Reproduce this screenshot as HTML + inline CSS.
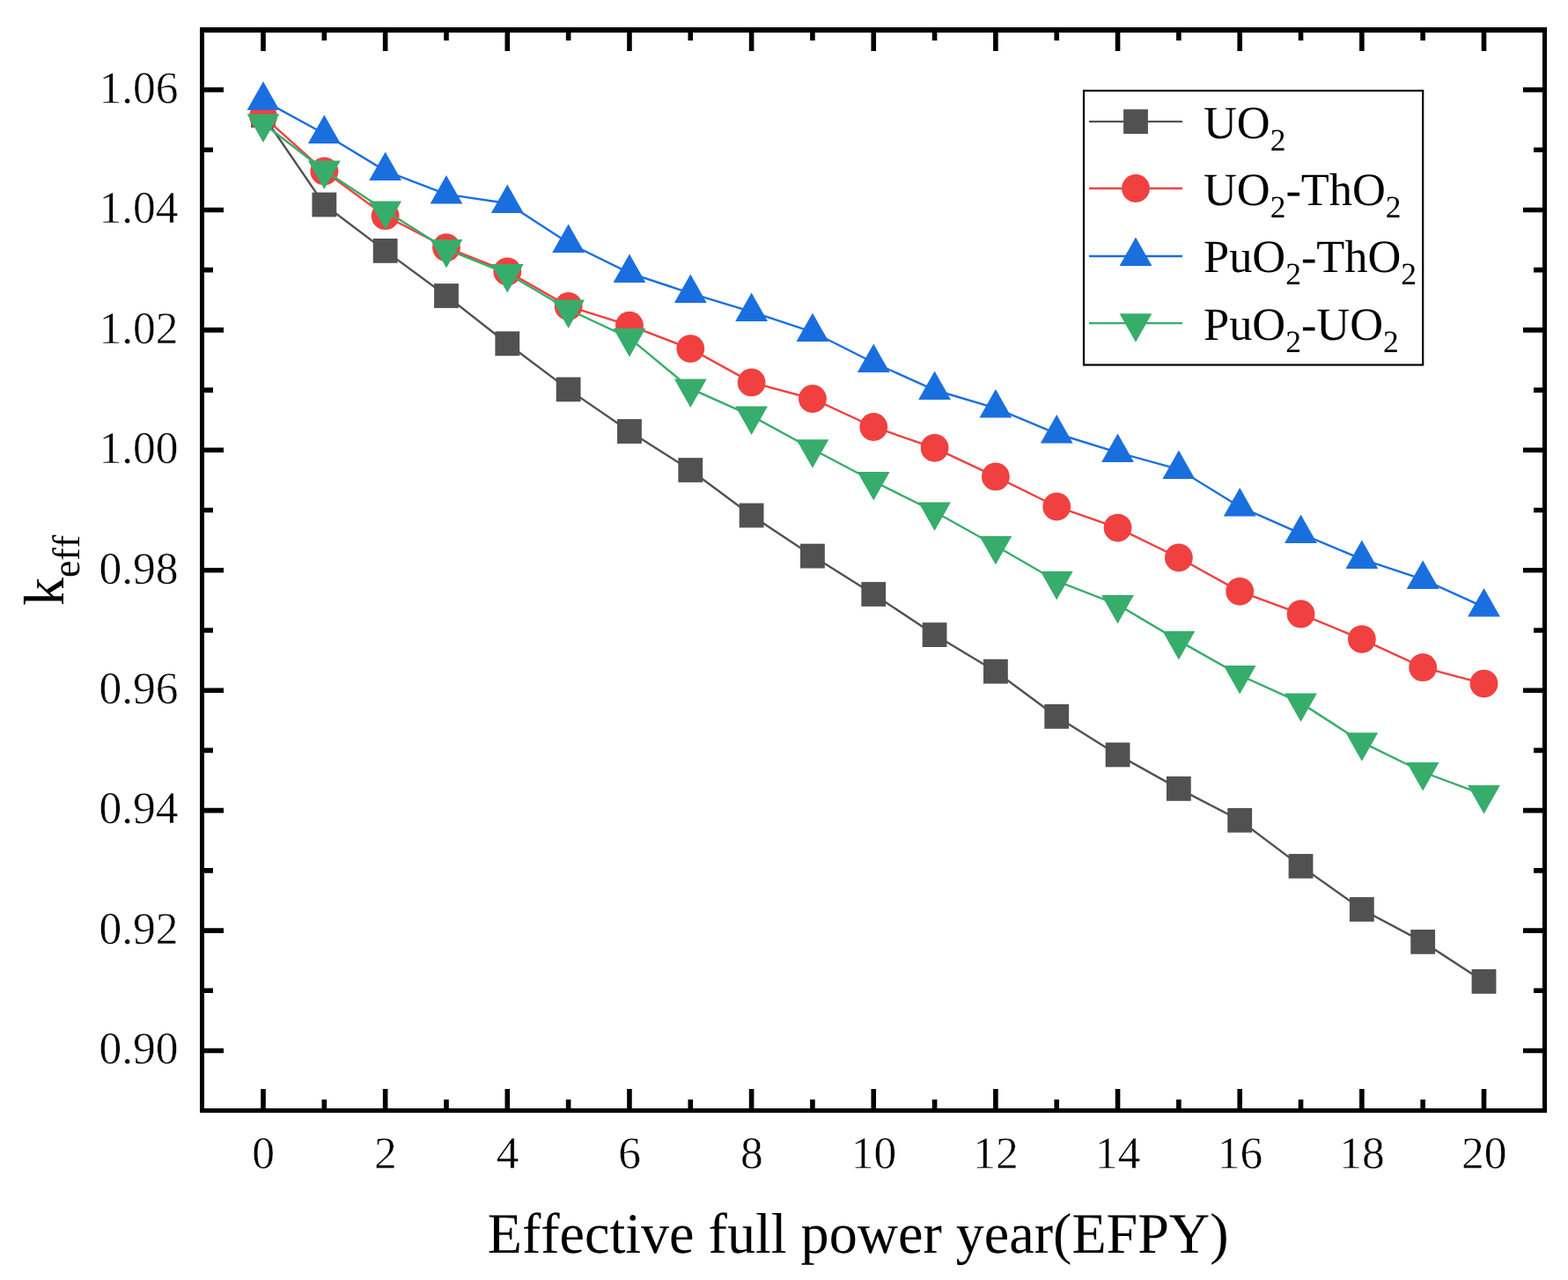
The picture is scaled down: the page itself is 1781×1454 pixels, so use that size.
<!DOCTYPE html>
<html lang="en">
<head>
<meta charset="utf-8">
<title>k_eff versus effective full power year</title>
<style>
html,body{margin:0;padding:0;background:#fff;}
body{width:1781px;height:1454px;overflow:hidden;}
svg{display:block;}
text{font-family:"Liberation Serif",serif;fill:#000;font-variant-ligatures:none;font-kerning:none;text-rendering:geometricPrecision;}
.tick{font-size:51.5px;stroke:#fff;stroke-width:0.5px;paint-order:fill stroke;}
.leg{font-size:52.4px;}
.ttl{font-size:65px;}
</style>
</head>
<body>
<svg width="1781" height="1454" viewBox="0 0 1781 1454">
<rect x="0" y="0" width="1781" height="1454" fill="#fff"/>
<path d="M227 31.1H1757V1264H227Z M232 36.9V1259H1752V36.9Z" fill="#000" fill-rule="evenodd"/>
<path d="M299 1261.5v-24.5M299 34.0v23.9M368.32 1261.5v-12.5M368.32 34.0v11.9M437.65 1261.5v-24.5M437.65 34.0v23.9M506.98 1261.5v-12.5M506.98 34.0v11.9M576.3 1261.5v-24.5M576.3 34.0v23.9M645.62 1261.5v-12.5M645.62 34.0v11.9M714.95 1261.5v-24.5M714.95 34.0v23.9M784.28 1261.5v-12.5M784.28 34.0v11.9M853.6 1261.5v-24.5M853.6 34.0v23.9M922.93 1261.5v-12.5M922.93 34.0v11.9M992.25 1261.5v-24.5M992.25 34.0v23.9M1061.58 1261.5v-12.5M1061.58 34.0v11.9M1130.9 1261.5v-24.5M1130.9 34.0v23.9M1200.22 1261.5v-12.5M1200.22 34.0v11.9M1269.55 1261.5v-24.5M1269.55 34.0v23.9M1338.88 1261.5v-12.5M1338.88 34.0v11.9M1408.2 1261.5v-24.5M1408.2 34.0v23.9M1477.53 1261.5v-12.5M1477.53 34.0v11.9M1546.85 1261.5v-24.5M1546.85 34.0v23.9M1616.17 1261.5v-12.5M1616.17 34.0v11.9M1685.5 1261.5v-24.5M1685.5 34.0v23.9M229.5 102h24.5M1754.5 102h-24.5M229.5 170.22h12.5M1754.5 170.22h-12.5M229.5 238.44h24.5M1754.5 238.44h-24.5M229.5 306.66h12.5M1754.5 306.66h-12.5M229.5 374.88h24.5M1754.5 374.88h-24.5M229.5 443.1h12.5M1754.5 443.1h-12.5M229.5 511.32h24.5M1754.5 511.32h-24.5M229.5 579.54h12.5M1754.5 579.54h-12.5M229.5 647.76h24.5M1754.5 647.76h-24.5M229.5 715.98h12.5M1754.5 715.98h-12.5M229.5 784.2h24.5M1754.5 784.2h-24.5M229.5 852.42h12.5M1754.5 852.42h-12.5M229.5 920.64h24.5M1754.5 920.64h-24.5M229.5 988.86h12.5M1754.5 988.86h-12.5M229.5 1057.08h24.5M1754.5 1057.08h-24.5M229.5 1125.3h12.5M1754.5 1125.3h-12.5M229.5 1193.52h24.5M1754.5 1193.52h-24.5" fill="none" stroke="#000" stroke-width="5.6"/>
<text class="tick" transform="translate(202.6 116.8)" text-anchor="end">1.06</text>
<text class="tick" transform="translate(202.6 253.24)" text-anchor="end">1.04</text>
<text class="tick" transform="translate(202.6 389.68)" text-anchor="end">1.02</text>
<text class="tick" transform="translate(202.6 526.12)" text-anchor="end">1.00</text>
<text class="tick" transform="translate(202.6 662.56)" text-anchor="end">0.98</text>
<text class="tick" transform="translate(202.6 799)" text-anchor="end">0.96</text>
<text class="tick" transform="translate(202.6 935.44)" text-anchor="end">0.94</text>
<text class="tick" transform="translate(202.6 1071.88)" text-anchor="end">0.92</text>
<text class="tick" transform="translate(202.6 1208.32)" text-anchor="end">0.90</text>
<text class="tick" transform="translate(299.2 1327)" text-anchor="middle">0</text>
<text class="tick" transform="translate(437.85 1327)" text-anchor="middle">2</text>
<text class="tick" transform="translate(576.5 1327)" text-anchor="middle">4</text>
<text class="tick" transform="translate(715.15 1327)" text-anchor="middle">6</text>
<text class="tick" transform="translate(853.8 1327)" text-anchor="middle">8</text>
<text class="tick" transform="translate(992.45 1327)" text-anchor="middle">10</text>
<text class="tick" transform="translate(1131.1 1327)" text-anchor="middle">12</text>
<text class="tick" transform="translate(1269.75 1327)" text-anchor="middle">14</text>
<text class="tick" transform="translate(1408.4 1327)" text-anchor="middle">16</text>
<text class="tick" transform="translate(1547.05 1327)" text-anchor="middle">18</text>
<text class="tick" transform="translate(1685.7 1327)" text-anchor="middle">20</text>
<text class="ttl" transform="translate(974.6 1423.3) scale(0.986 1)" text-anchor="middle">Effective full power year(EFPY)</text>
<text class="ttl" transform="translate(71.8 688) rotate(-90) scale(0.988 1)" x="0" y="0">k<tspan dy="18.6" font-size="43.8px">eff</tspan></text>
<polyline points="299,131 368.32,232.5 437.65,284.9 506.98,336 576.3,390.3 645.62,442.4 714.95,490 784.28,534 853.6,585.5 922.93,631.6 992.25,675 1061.58,721.1 1130.9,762.7 1200.22,813.9 1269.55,857.4 1338.88,895.9 1408.2,931.8 1477.53,983.9 1546.85,1033 1616.17,1069.9 1685.5,1114.9" fill="none" stroke="#515151" stroke-width="2.4"/>
<rect x="285.1" y="117.1" width="27.8" height="27.8" fill="#515151"/><rect x="354.43" y="218.6" width="27.8" height="27.8" fill="#515151"/><rect x="423.75" y="271" width="27.8" height="27.8" fill="#515151"/><rect x="493.08" y="322.1" width="27.8" height="27.8" fill="#515151"/><rect x="562.4" y="376.4" width="27.8" height="27.8" fill="#515151"/><rect x="631.73" y="428.5" width="27.8" height="27.8" fill="#515151"/><rect x="701.05" y="476.1" width="27.8" height="27.8" fill="#515151"/><rect x="770.38" y="520.1" width="27.8" height="27.8" fill="#515151"/><rect x="839.7" y="571.6" width="27.8" height="27.8" fill="#515151"/><rect x="909.03" y="617.7" width="27.8" height="27.8" fill="#515151"/><rect x="978.35" y="661.1" width="27.8" height="27.8" fill="#515151"/><rect x="1047.67" y="707.2" width="27.8" height="27.8" fill="#515151"/><rect x="1117" y="748.8" width="27.8" height="27.8" fill="#515151"/><rect x="1186.32" y="800" width="27.8" height="27.8" fill="#515151"/><rect x="1255.65" y="843.5" width="27.8" height="27.8" fill="#515151"/><rect x="1324.97" y="882" width="27.8" height="27.8" fill="#515151"/><rect x="1394.3" y="917.9" width="27.8" height="27.8" fill="#515151"/><rect x="1463.62" y="970" width="27.8" height="27.8" fill="#515151"/><rect x="1532.95" y="1019.1" width="27.8" height="27.8" fill="#515151"/><rect x="1602.27" y="1056" width="27.8" height="27.8" fill="#515151"/><rect x="1671.6" y="1101" width="27.8" height="27.8" fill="#515151"/>
<polyline points="299,132.2 368.32,194.4 437.65,245.2 506.98,281.2 576.3,308.4 645.62,347.9 714.95,369.7 784.28,396.1 853.6,434.4 922.93,453 992.25,485 1061.58,508.8 1130.9,541.4 1200.22,575.5 1269.55,599.6 1338.88,633.5 1408.2,671.8 1477.53,697.4 1546.85,726.1 1616.17,758.2 1685.5,776.6" fill="none" stroke="#f14040" stroke-width="2.4"/>
<circle cx="299" cy="132.2" r="15.9" fill="#f14040"/><circle cx="368.32" cy="194.4" r="15.9" fill="#f14040"/><circle cx="437.65" cy="245.2" r="15.9" fill="#f14040"/><circle cx="506.98" cy="281.2" r="15.9" fill="#f14040"/><circle cx="576.3" cy="308.4" r="15.9" fill="#f14040"/><circle cx="645.62" cy="347.9" r="15.9" fill="#f14040"/><circle cx="714.95" cy="369.7" r="15.9" fill="#f14040"/><circle cx="784.28" cy="396.1" r="15.9" fill="#f14040"/><circle cx="853.6" cy="434.4" r="15.9" fill="#f14040"/><circle cx="922.93" cy="453" r="15.9" fill="#f14040"/><circle cx="992.25" cy="485" r="15.9" fill="#f14040"/><circle cx="1061.58" cy="508.8" r="15.9" fill="#f14040"/><circle cx="1130.9" cy="541.4" r="15.9" fill="#f14040"/><circle cx="1200.22" cy="575.5" r="15.9" fill="#f14040"/><circle cx="1269.55" cy="599.6" r="15.9" fill="#f14040"/><circle cx="1338.88" cy="633.5" r="15.9" fill="#f14040"/><circle cx="1408.2" cy="671.8" r="15.9" fill="#f14040"/><circle cx="1477.53" cy="697.4" r="15.9" fill="#f14040"/><circle cx="1546.85" cy="726.1" r="15.9" fill="#f14040"/><circle cx="1616.17" cy="758.2" r="15.9" fill="#f14040"/><circle cx="1685.5" cy="776.6" r="15.9" fill="#f14040"/>
<polyline points="299,114.1 368.32,152 437.65,194.1 506.98,220.7 576.3,231 645.62,276 714.95,310.1 784.28,333.1 853.6,354.1 922.93,377 992.25,412 1061.58,443 1130.9,463.6 1200.22,492.5 1269.55,514 1338.88,533.1 1408.2,575.7 1477.53,606.2 1546.85,635.2 1616.17,658.1 1685.5,689.6" fill="none" stroke="#1a6fdf" stroke-width="2.4"/>
<polygon points="299,92.5 317.4,125 280.6,125" fill="#1a6fdf"/><polygon points="368.32,130.4 386.72,162.9 349.93,162.9" fill="#1a6fdf"/><polygon points="437.65,172.5 456.05,205 419.25,205" fill="#1a6fdf"/><polygon points="506.98,199.1 525.38,231.6 488.58,231.6" fill="#1a6fdf"/><polygon points="576.3,209.4 594.7,241.9 557.9,241.9" fill="#1a6fdf"/><polygon points="645.62,254.4 664.02,286.9 627.23,286.9" fill="#1a6fdf"/><polygon points="714.95,288.5 733.35,321 696.55,321" fill="#1a6fdf"/><polygon points="784.28,311.5 802.68,344 765.88,344" fill="#1a6fdf"/><polygon points="853.6,332.5 872,365 835.2,365" fill="#1a6fdf"/><polygon points="922.93,355.4 941.33,387.9 904.53,387.9" fill="#1a6fdf"/><polygon points="992.25,390.4 1010.65,422.9 973.85,422.9" fill="#1a6fdf"/><polygon points="1061.58,421.4 1079.98,453.9 1043.17,453.9" fill="#1a6fdf"/><polygon points="1130.9,442 1149.3,474.5 1112.5,474.5" fill="#1a6fdf"/><polygon points="1200.22,470.9 1218.62,503.4 1181.82,503.4" fill="#1a6fdf"/><polygon points="1269.55,492.4 1287.95,524.9 1251.15,524.9" fill="#1a6fdf"/><polygon points="1338.88,511.5 1357.28,544 1320.47,544" fill="#1a6fdf"/><polygon points="1408.2,554.1 1426.6,586.6 1389.8,586.6" fill="#1a6fdf"/><polygon points="1477.53,584.6 1495.93,617.1 1459.12,617.1" fill="#1a6fdf"/><polygon points="1546.85,613.6 1565.25,646.1 1528.45,646.1" fill="#1a6fdf"/><polygon points="1616.17,636.5 1634.58,669 1597.77,669" fill="#1a6fdf"/><polygon points="1685.5,668 1703.9,700.5 1667.1,700.5" fill="#1a6fdf"/>
<polyline points="299,140.3 368.32,193.4 437.65,239.3 506.98,283 576.3,310.8 645.62,351.5 714.95,383.9 784.28,441.4 853.6,472.4 922.93,510.2 992.25,546.8 1061.58,581.3 1130.9,620 1200.22,660 1269.55,686.8 1338.88,727.9 1408.2,767 1477.53,798.4 1546.85,843.2 1616.17,877 1685.5,902.8" fill="none" stroke="#37ad6b" stroke-width="2.4"/>
<polygon points="299,161.9 317.4,129.4 280.6,129.4" fill="#37ad6b"/><polygon points="368.32,215 386.72,182.5 349.93,182.5" fill="#37ad6b"/><polygon points="437.65,260.9 456.05,228.4 419.25,228.4" fill="#37ad6b"/><polygon points="506.98,304.6 525.38,272.1 488.58,272.1" fill="#37ad6b"/><polygon points="576.3,332.4 594.7,299.9 557.9,299.9" fill="#37ad6b"/><polygon points="645.62,373.1 664.02,340.6 627.23,340.6" fill="#37ad6b"/><polygon points="714.95,405.5 733.35,373 696.55,373" fill="#37ad6b"/><polygon points="784.28,463 802.68,430.5 765.88,430.5" fill="#37ad6b"/><polygon points="853.6,494 872,461.5 835.2,461.5" fill="#37ad6b"/><polygon points="922.93,531.8 941.33,499.3 904.53,499.3" fill="#37ad6b"/><polygon points="992.25,568.4 1010.65,535.9 973.85,535.9" fill="#37ad6b"/><polygon points="1061.58,602.9 1079.98,570.4 1043.17,570.4" fill="#37ad6b"/><polygon points="1130.9,641.6 1149.3,609.1 1112.5,609.1" fill="#37ad6b"/><polygon points="1200.22,681.6 1218.62,649.1 1181.82,649.1" fill="#37ad6b"/><polygon points="1269.55,708.4 1287.95,675.9 1251.15,675.9" fill="#37ad6b"/><polygon points="1338.88,749.5 1357.28,717 1320.47,717" fill="#37ad6b"/><polygon points="1408.2,788.6 1426.6,756.1 1389.8,756.1" fill="#37ad6b"/><polygon points="1477.53,820 1495.93,787.5 1459.12,787.5" fill="#37ad6b"/><polygon points="1546.85,864.8 1565.25,832.3 1528.45,832.3" fill="#37ad6b"/><polygon points="1616.17,898.6 1634.58,866.1 1597.77,866.1" fill="#37ad6b"/><polygon points="1685.5,924.4 1703.9,891.9 1667.1,891.9" fill="#37ad6b"/>
<rect x="1231" y="103" width="385.2" height="311.5" fill="#fff" stroke="#000" stroke-width="2.2"/>
<line x1="1237" y1="138.1" x2="1343" y2="138.1" stroke="#515151" stroke-width="2.4"/><rect x="1276.1" y="124.2" width="27.8" height="27.8" fill="#515151"/><text class="leg" transform="translate(1367 157.4)">UO<tspan dy="13.7" font-size="35.4px">2</tspan></text>
<line x1="1237" y1="214.0" x2="1343" y2="214.0" stroke="#f14040" stroke-width="2.4"/><circle cx="1290" cy="214" r="15.9" fill="#f14040"/><text class="leg" transform="translate(1367 233.4)">UO<tspan dy="13.7" font-size="35.4px">2</tspan><tspan dy="-13.7">-ThO</tspan><tspan dy="13.7" font-size="35.4px">2</tspan></text>
<line x1="1237" y1="291.0" x2="1343" y2="291.0" stroke="#1a6fdf" stroke-width="2.4"/><polygon points="1290,269.4 1308.4,301.9 1271.6,301.9" fill="#1a6fdf"/><text class="leg" transform="translate(1367 309)">PuO<tspan dy="13.7" font-size="35.4px">2</tspan><tspan dy="-13.7">-ThO</tspan><tspan dy="13.7" font-size="35.4px">2</tspan></text>
<line x1="1237" y1="367.1" x2="1343" y2="367.1" stroke="#37ad6b" stroke-width="2.4"/><polygon points="1290,388.7 1308.4,356.2 1271.6,356.2" fill="#37ad6b"/><text class="leg" transform="translate(1367 386)">PuO<tspan dy="13.7" font-size="35.4px">2</tspan><tspan dy="-13.7">-UO</tspan><tspan dy="13.7" font-size="35.4px">2</tspan></text>
</svg>
</body>
</html>
